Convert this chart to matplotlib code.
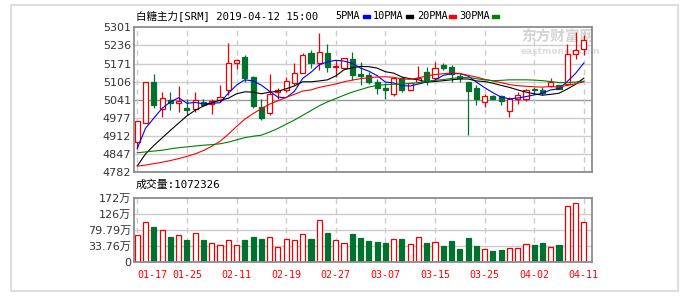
import matplotlib
matplotlib.use('Agg')
import matplotlib.pyplot as plt
from matplotlib.patches import Rectangle
import numpy as np

# daily candles, 2019-01-17 .. 2019-04-11
opens = [4891, 4960, 5104, 5010, 5040, 5031, 5012, 5007, 5034, 5025,
         5040, 5076, 5173, 5195, 5122, 5017, 4996, 5071, 5075, 5100,
         5139, 5210, 5175, 5210, 5159, 5157, 5186, 5134, 5131, 5105,
         5085, 5062, 5118, 5075, 5106, 5141, 5121, 5167, 5159, 5127,
         5105, 5085, 5033, 5055, 5055, 5000, 5043, 5043, 5081, 5075,
         5091, 5093, 5099, 5207, 5222]
highs = [4965, 5106, 5134, 5069, 5069, 5091, 5043, 5069, 5043, 5045,
         5096, 5245, 5186, 5202, 5127, 5046, 5135, 5083, 5122, 5173,
         5210, 5219, 5279, 5243, 5183, 5192, 5213, 5176, 5141, 5115,
         5102, 5123, 5123, 5103, 5161, 5159, 5177, 5172, 5167, 5135,
         5106, 5096, 5063, 5060, 5060, 5052, 5069, 5081, 5087, 5086,
         5120, 5096, 5243, 5283, 5275]
lows = [4866, 4958, 5012, 4980, 5004, 4998, 4988, 4998, 5019, 4992,
        5034, 5058, 5153, 5105, 5012, 4969, 4986, 5044, 5069, 5093,
        5139, 5156, 5147, 5142, 5123, 5153, 5112, 5094, 5099, 5063,
        5044, 5055, 5069, 5073, 5102, 5093, 5111, 5147, 5105, 5105,
        4917, 5023, 5016, 5043, 5022, 4980, 5028, 5036, 5063, 5059,
        5087, 5079, 5093, 5189, 5203]
closes = [4965, 5104, 5024, 5047, 5031, 5037, 5005, 5040, 5024, 5038,
          5050, 5174, 5183, 5121, 5019, 4975, 5064, 5077, 5108, 5136,
          5203, 5175, 5212, 5160, 5164, 5190, 5132, 5127, 5105, 5084,
          5075, 5119, 5075, 5100, 5119, 5114, 5154, 5156, 5133, 5120,
          5073, 5043, 5055, 5046, 5037, 5045, 5058, 5078, 5075, 5067,
          5105, 5081, 5207, 5219, 5254]
# volume in 万
volumes = [73.9, 108.5, 93.3, 87.1, 66.7, 73.9, 58.7, 79.1, 58.7, 52.5,
           47.1, 60.5, 47.1, 58.7, 66.7, 61.3, 68.5, 41.8, 63.1, 60.5,
           74.7, 61.3, 113.8, 77.3, 58.7, 52.5, 74.7, 64.0, 56.0, 53.3,
           50.7, 63.1, 61.3, 48.0, 68.5, 50.7, 55.1, 42.7, 56.0, 34.7,
           64.0, 42.7, 36.5, 29.3, 32.0, 39.1, 39.1, 49.8, 45.3, 50.7,
           41.8, 45.3, 149.3, 159.2, 107.2]

ma5 = [4868, 4940, 4976, 5011, 5034, 5049, 5029, 5032, 5027, 5029,
       5031, 5065, 5094, 5113, 5109, 5094, 5072, 5051, 5049, 5072,
       5118, 5140, 5167, 5177, 5183, 5180, 5172, 5155, 5144, 5128,
       5105, 5102, 5092, 5091, 5098, 5105, 5112, 5129, 5135, 5135,
       5127, 5105, 5085, 5067, 5051, 5045, 5048, 5053, 5059, 5065,
       5077, 5081, 5107, 5136, 5173]
ma10 = [4805, 4848, 4878, 4905, 4932, 4958, 4984, 5004, 5019, 5031,
        5040, 5047, 5063, 5070, 5069, 5063, 5069, 5072, 5081, 5091,
        5106, 5106, 5109, 5113, 5127, 5149, 5156, 5161, 5160, 5155,
        5142, 5137, 5123, 5117, 5113, 5105, 5107, 5110, 5113, 5116,
        5116, 5109, 5107, 5101, 5093, 5086, 5077, 5069, 5063, 5058,
        5061, 5065, 5080, 5097, 5119]
ma20 = [4804, 4808, 4813, 4818, 4824, 4831, 4839, 4848, 4860, 4875,
        4893, 4918, 4946, 4972, 4992, 5010, 5026, 5038, 5050, 5061,
        5073, 5077, 5086, 5092, 5098, 5106, 5112, 5117, 5121, 5123,
        5124, 5122, 5116, 5115, 5120, 5127, 5132, 5135, 5137, 5136,
        5129, 5123, 5115, 5109, 5103, 5096, 5092, 5090, 5088, 5087,
        5089, 5087, 5093, 5099, 5106]
ma30 = [4852, 4855, 4858, 4861, 4866, 4870, 4873, 4876, 4879, 4881,
        4884, 4890, 4898, 4906, 4911, 4915, 4926, 4939, 4954, 4969,
        4986, 5003, 5020, 5034, 5046, 5058, 5069, 5078, 5087, 5093,
        5096, 5097, 5098, 5100, 5103, 5106, 5111, 5114, 5118, 5121,
        5122, 5117, 5113, 5110, 5111, 5113, 5113, 5113, 5112, 5110,
        5107, 5103, 5103, 5105, 5108]

price_ticks = [4782, 4847, 4912, 4977, 5041, 5106, 5171, 5236, 5301]
vol_labels = ['0', '33.76万', '79.79万', '126万', '172万']
vol_max = 172
date_labels = ['01-17', '01-25', '02-11', '02-19', '02-27',
               '03-07', '03-15', '03-25', '04-02', '04-11']

RED = '#ee0000'
GREEN = '#00712f'
W, H = 691, 301
CJK = ['DejaVu Sans Mono', 'Noto Sans CJK SC']

fig = plt.figure(figsize=(W / 100, H / 100), dpi=100)
fig.patch.set_facecolor('white')

def fx(px):
    return px / W

def fy(py):
    return 1 - py / H

ax = fig.add_axes([fx(134), fy(172.3), (591.7 - 134) / W, (172.3 - 27.3) / H])
axv = fig.add_axes([fx(134), fy(262.3), (591.7 - 134) / W, (262.3 - 197.7) / H])

n = len(closes)
xs = np.arange(n)
tick_idx = list(range(0, n, 6))

for i in xs:
    o, h, l, c = opens[i], highs[i], lows[i], closes[i]
    top, bot = max(o, c), min(o, c)
    up = c >= o
    col = RED if up else GREEN
    ax.vlines(i, top, h, color=col, lw=0.9, zorder=2)
    ax.vlines(i, l, bot, color=col, lw=0.9, zorder=2)
    ax.bar(i, max(top - bot, 1.5), bottom=bot, width=0.62,
           facecolor='white' if up else col, edgecolor=col, lw=0.9, zorder=2)
    axv.bar(i, volumes[i], width=0.62, facecolor='white' if up else col,
            edgecolor=col, lw=0.9, zorder=2)

ax.plot(xs, ma5, color='#0000ff', lw=0.8, zorder=3)
ax.plot(xs, ma10, color='black', lw=0.8, zorder=3)
ax.plot(xs, ma20, color='#ff0000', lw=0.8, zorder=3)
ax.plot(xs, ma30, color='#008000', lw=0.8, zorder=3)

# main axes
ax.set_xlim(-0.4, n - 0.05)
ax.set_ylim(price_ticks[0], price_ticks[-1])
ax.set_yticks(price_ticks)
ax.set_yticklabels([str(t) for t in price_ticks], fontsize=8, color='#333333')
ax.set_xticks(tick_idx)
ax.set_xticklabels([])
ax.tick_params(length=0, pad=2)
for k, t in enumerate(price_ticks[1:-1]):
    ax.axhline(t, color='#999999' if t == 5041 else '#cccccc', lw=1, zorder=0)
for t in tick_idx:
    ax.axvline(t, color='#cccccc', lw=1, ls=(0, (4, 3)), zorder=0)

# volume axes
axv.set_xlim(-0.4, n - 0.05)
axv.set_ylim(0, vol_max)
vpos = np.linspace(0, vol_max, len(vol_labels))
axv.set_yticks(vpos)
axv.set_yticklabels(vol_labels, fontsize=8, color='#333333',
                    family=['DejaVu Sans', 'Noto Sans CJK SC'])
axv.set_xticks(tick_idx)
axv.set_xticklabels(date_labels, fontsize=7.2, color='#ff0000',
                    family='DejaVu Sans Mono')
axv.get_xticklabels()[0].set_horizontalalignment('left')
axv.tick_params(length=0, pad=2)
axv.tick_params(axis='x', pad=5.5)
for t in vpos[1:-1]:
    axv.axhline(t, color='#cccccc', lw=1, zorder=0)
for t in tick_idx:
    axv.axvline(t, color='#cccccc', lw=1, ls=(0, (4, 3)), zorder=0)

for a in (ax, axv):
    for s in a.spines.values():
        s.set_color('#8c8c8c')
        s.set_linewidth(1.3)

# watermark
ax.text(0.845, 0.935, '东方财富网', transform=ax.transAxes, fontsize=10.5,
        color='#d4d4d4', family='Noto Sans CJK SC', weight='bold',
        ha='left', va='center', zorder=1)
ax.text(0.845, 0.83, 'eastmoney.com', transform=ax.transAxes, fontsize=6.5,
        color='#dcdcdc', weight='bold', ha='left', va='center', zorder=1)

# title and legend
fig.text(fx(136), fy(16), '白糖主力[SRM] 2019-04-12 15:00', fontsize=7.6,
         family=CJK, va='center', ha='left', color='black')
legend = [('5PMA', 335, 363, '#0000ff'), ('10PMA', 373, 406, 'black'),
          ('20PMA', 417, 449, '#ff0000'), ('30PMA', 459, 492, '#008000')]
for name, tx, rx, col in legend:
    fig.text(fx(tx), fy(16), name, fontsize=7.4, family='DejaVu Sans Mono',
             va='center', ha='left', color='black')
    fig.patches.append(Rectangle((fx(rx), fy(17.5)), 7 / W, 3 / H,
                                 transform=fig.transFigure, color=col))

fig.text(fx(136), fy(185), '成交量:1072326', fontsize=7.8, family=CJK,
         va='center', ha='left', color='black')

fig.patches.append(Rectangle((fx(10.7), fy(291)), (678 - 10.7) / W, (291 - 5) / H,
                             transform=fig.transFigure, fill=False,
                             edgecolor='#dddddd', lw=1.5))

fig.savefig('out.png', dpi=100)
